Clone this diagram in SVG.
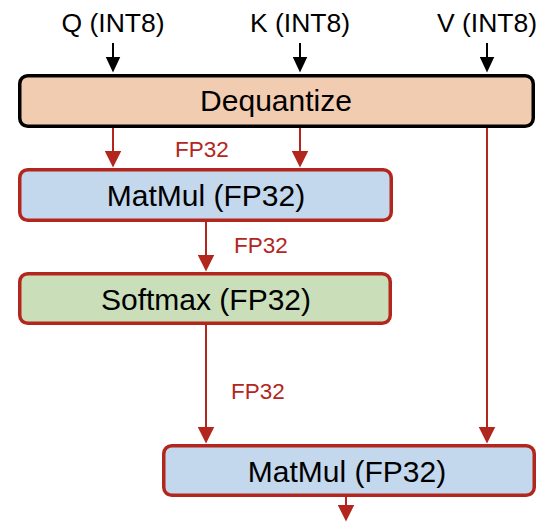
<svg xmlns="http://www.w3.org/2000/svg" width="559" height="526" viewBox="0 0 559 526">
<style>
.box{stroke-width:3.5;}
.deq{fill:#F2CCB0;stroke:#000000;}
.mm{fill:#C3D7ED;stroke:#B3261E;}
.sm{fill:#CADFB9;stroke:#B3261E;}
.t{font-family:"Liberation Sans",Arial,sans-serif;font-size:30px;fill:#000;text-anchor:middle;}
.in{font-family:"Liberation Sans",Arial,sans-serif;font-size:26.5px;fill:#000;text-anchor:middle;}
.fp{font-family:"Liberation Sans",Arial,sans-serif;font-size:22.5px;fill:#B3261E;text-anchor:middle;}
.bl{stroke:#000;stroke-width:2;fill:none;}
.rd{stroke:#B3261E;stroke-width:2;fill:none;}
</style>
<defs>
<marker id="ab" markerUnits="userSpaceOnUse" markerWidth="16" markerHeight="15" refX="0.5" refY="7.5" orient="auto">
<path d="M0,0 L16,7.5 L0,15 z" fill="#000"/>
</marker>
<marker id="ar" markerUnits="userSpaceOnUse" markerWidth="17" markerHeight="17" refX="0.5" refY="8.5" orient="auto">
<path d="M0,0 L17,8.5 L0,17 z" fill="#B3261E"/>
</marker>
</defs>
<g id="inputs">
<text class="in" x="113" y="32">Q (INT8)</text>
<text class="in" x="300" y="32">K (INT8)</text>
<text class="in" x="487" y="32">V (INT8)</text>
</g>
<g id="connectors">
<line class="bl" x1="113" y1="43" x2="113" y2="57" marker-end="url(#ab)"/>
<line class="bl" x1="300" y1="43" x2="300" y2="57" marker-end="url(#ab)"/>
<line class="bl" x1="487" y1="43" x2="487" y2="57" marker-end="url(#ab)"/>
<line class="rd" x1="113" y1="128" x2="113" y2="151" marker-end="url(#ar)"/>
<line class="rd" x1="300" y1="128" x2="300" y2="151" marker-end="url(#ar)"/>
<line class="rd" x1="487" y1="128" x2="487" y2="427" marker-end="url(#ar)"/>
<line class="rd" x1="206" y1="222" x2="206" y2="255" marker-end="url(#ar)"/>
<line class="rd" x1="206" y1="325" x2="206" y2="427" marker-end="url(#ar)"/>
<line class="rd" x1="346" y1="497" x2="346" y2="505" marker-end="url(#ar)"/>
<text class="fp" x="202" y="157">FP32</text>
<text class="fp" x="261" y="253">FP32</text>
<text class="fp" x="258" y="399">FP32</text>
</g>
<g id="dequantize">
<rect class="box deq" x="19.75" y="75.75" width="513.5" height="50.5" rx="8"/>
<text class="t" x="276" y="111">Dequantize</text>
</g>
<g id="matmul1">
<rect class="box mm" x="19.75" y="169.75" width="371.5" height="50.5" rx="8"/>
<text class="t" x="206" y="206">MatMul (FP32)</text>
</g>
<g id="softmax">
<rect class="box sm" x="19.75" y="273.75" width="370.5" height="49.5" rx="8"/>
<text class="t" x="206" y="310">Softmax (FP32)</text>
</g>
<g id="matmul2">
<rect class="box mm" x="163.75" y="445.75" width="370.5" height="49.5" rx="8"/>
<text class="t" x="347" y="482">MatMul (FP32)</text>
</g>
</svg>
